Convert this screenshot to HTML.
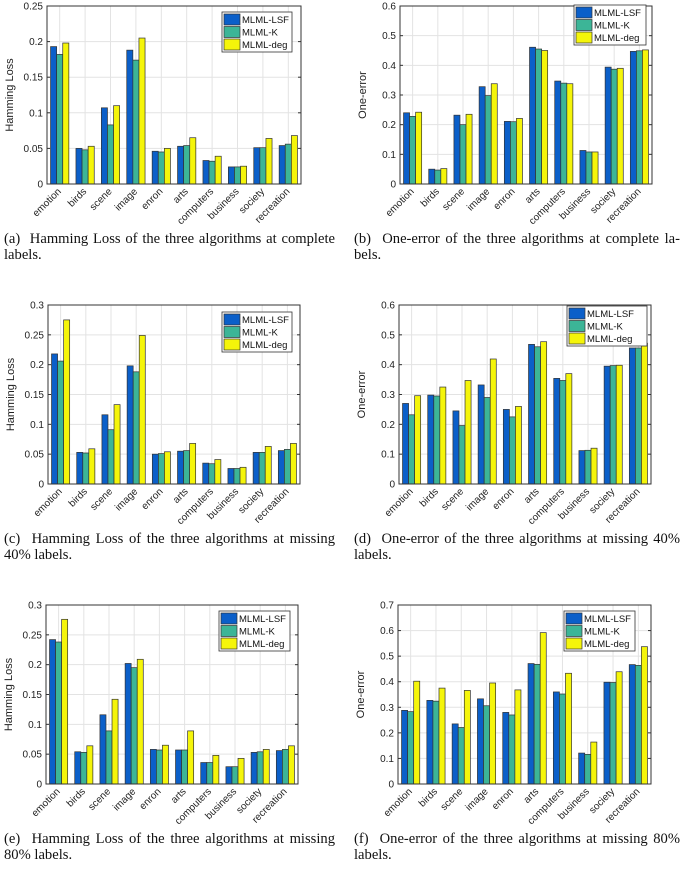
<!DOCTYPE html>
<html><head><meta charset="utf-8"><style>
body{margin:0;background:#fff;width:685px;height:869px;overflow:hidden;position:relative;font-family:"Liberation Serif",serif}
svg{position:absolute;left:0;top:0}
.cap{position:absolute;font-family:"Liberation Serif",serif;font-size:14.6px;line-height:16px;color:#111;width:331px;text-align:justify;hyphens:manual}
.capr{width:326px}
</style></head><body>
<svg id="fig" width="685" height="869"></svg>
<div class="cap" style="left:4px;top:231px">(a)&nbsp; Hamming Loss of the three algorithms at complete labels.</div>
<div class="cap capr" style="left:354px;top:231px">(b)&nbsp; One-error of the three algorithms at complete la&shy;bels.</div>
<div class="cap" style="left:4px;top:531px">(c)&nbsp; Hamming Loss of the three algorithms at missing 40% labels.</div>
<div class="cap capr" style="left:354px;top:531px">(d)&nbsp; One-error of the three algorithms at missing 40% labels.</div>
<div class="cap" style="left:4px;top:831px">(e)&nbsp; Hamming Loss of the three algorithms at missing 80% labels.</div>
<div class="cap capr" style="left:354px;top:831px">(f)&nbsp; One-error of the three algorithms at missing 80% labels.</div>
<script>
const categories=["emotion","birds","scene","image","enron","arts","computers","business","society","recreation"];
const seriesNames=["MLML-LSF","MLML-K","MLML-deg"];
const aLSF=[.193,.050,.107,.188,.046,.053,.033,.024,.051,.054];
const aK=[.182,.048,.083,.174,.045,.054,.032,.024,.051,.056];
const aDeg=[.198,.053,.110,.205,.050,.065,.039,.025,.064,.068];
const bLSF=[.240,.050,.232,.328,.211,.461,.347,.113,.394,.447];
const bK=[.228,.047,.200,.298,.210,.455,.340,.108,.387,.449];
const bDeg=[.242,.052,.235,.338,.221,.450,.338,.108,.390,.452];
const cLSF=[.218,.053,.116,.198,.050,.055,.035,.026,.053,.056];
const cK=[.206,.052,.091,.188,.051,.056,.034,.026,.053,.058];
const cDeg=[.275,.059,.133,.249,.054,.068,.041,.028,.063,.068];
const dLSF=[.270,.298,.245,.332,.250,.468,.354,.112,.395,.456];
const dK=[.232,.295,.196,.290,.225,.460,.347,.113,.397,.456];
const dDeg=[.296,.325,.347,.419,.260,.477,.370,.120,.398,.472];
const eLSF=[.242,.054,.116,.202,.058,.057,.036,.029,.053,.056];
const eK=[.238,.053,.089,.195,.057,.057,.036,.029,.054,.058];
const eDeg=[.276,.064,.142,.209,.065,.089,.048,.043,.058,.064];
const fLSF=[.288,.327,.235,.333,.280,.471,.360,.121,.398,.467];
const fK=[.283,.324,.221,.306,.270,.468,.352,.116,.397,.464];
const fDeg=[.402,.375,.366,.395,.368,.592,.433,.164,.439,.537];
const ticksHL025=[0,0.05,0.1,0.15,0.2,0.25];
const ticksHL03=[0,0.05,0.1,0.15,0.2,0.25,0.3];
const ticksOE06=[0,0.1,0.2,0.3,0.4,0.5,0.6];
const ticksOE07=[0,0.1,0.2,0.3,0.4,0.5,0.6,0.7];
const colors=["#0b5fc9","#3cb597","#f5f50a"];
const NS="http://www.w3.org/2000/svg";
const svg=document.getElementById("fig");
function mk(tag,attrs,parent){const e=document.createElementNS(NS,tag);for(const k in attrs)e.setAttribute(k,attrs[k]);(parent||svg).appendChild(e);return e;}
function chart(id,L,R,T,B,ymax,ticks,ylab,series,leg){
  const g=mk("g",{});
  
  
  const W=R-L,n=categories.length,slot=W/n;
  const xc=i=>L+slot*(i+0.5);
  const y=v=>B-(v/ymax)*(B-T);
  ticks.forEach(t=>{
    mk("line",{x1:L,x2:R,y1:y(t),y2:y(t),stroke:"#e3e3e3","stroke-width":1},g);
    const tx=mk("text",{x:L-4,y:y(t)+3.5,"text-anchor":"end","font-size":"10","font-family":"Liberation Sans, sans-serif",fill:"#222"},g);
    tx.textContent=String(t);
    
    
  });
  categories.forEach((c,i)=>{
    mk("line",{x1:xc(i),x2:xc(i),y1:T,y2:B,stroke:"#e3e3e3","stroke-width":1},g);
    const tx=mk("text",{x:xc(i)+2,y:B+8,"text-anchor":"end","font-size":"10","font-family":"Liberation Sans, sans-serif",fill:"#222",transform:`rotate(-45 ${xc(i)+2} ${B+8})`},g);
    tx.textContent=c;
    
    
  });
  const bw=slot*0.24;
  series.forEach((s,k)=>{
    s.forEach((v,i)=>{
      const x=xc(i)+(k-1)*bw-bw/2;
      const r=mk("rect",{x:x,y:y(v),width:bw,height:B-y(v),fill:colors[k],stroke:"#333","stroke-width":0.7},g);
      
      
    });
  });
  mk("rect",{x:L,y:T,width:W,height:B-T,fill:"none",stroke:"#333","stroke-width":1},g);
  ticks.forEach(t=>{mk("line",{x1:L,x2:L+3,y1:y(t),y2:y(t),stroke:"#333"},g);mk("line",{x1:R,x2:R-3,y1:y(t),y2:y(t),stroke:"#333"},g);});
  const yl=mk("text",{x:L-34,y:(T+B)/2,"text-anchor":"middle","font-size":"11","font-family":"Liberation Sans, sans-serif",fill:"#222",transform:`rotate(-90 ${L-34} ${(T+B)/2})`},g);
  yl.textContent=ylab;
  
  
  const lg=mk("g",{},g);
  
  
  mk("rect",{x:leg[0],y:leg[1],width:leg[2],height:40,fill:"#fff",stroke:"#333","stroke-width":0.8},lg);
  seriesNames.forEach((nm,k)=>{
    const yy=leg[1]+2+k*12.5;
    mk("rect",{x:leg[0]+2,y:yy,width:16,height:11,fill:colors[k],stroke:"#333","stroke-width":0.7},lg);
    const t=mk("text",{x:leg[0]+20,y:yy+9,"font-size":"9.5","font-family":"Liberation Sans, sans-serif",fill:"#111"},lg);
    t.textContent=nm;
    
    
  });
}
chart("a",47,301,6,184,0.25,ticksHL025,"Hamming Loss",[aLSF,aK,aDeg],[222,12,70]);
chart("b",400,652,6,184,0.6,ticksOE06,"One-error",[bLSF,bK,bDeg],[574,5,72]);
chart("c",48,300,305,484,0.3,ticksHL03,"Hamming Loss",[cLSF,cK,cDeg],[222,312,70]);
chart("d",399,651,305,484,0.6,ticksOE06,"One-error",[dLSF,dK,dDeg],[567,306,80]);
chart("e",46,298,605,784,0.3,ticksHL03,"Hamming Loss",[eLSF,eK,eDeg],[219,611,71]);
chart("f",398,651,605,784,0.7,ticksOE07,"One-error",[fLSF,fK,fDeg],[564,611,71]);
</script>
</body></html>
